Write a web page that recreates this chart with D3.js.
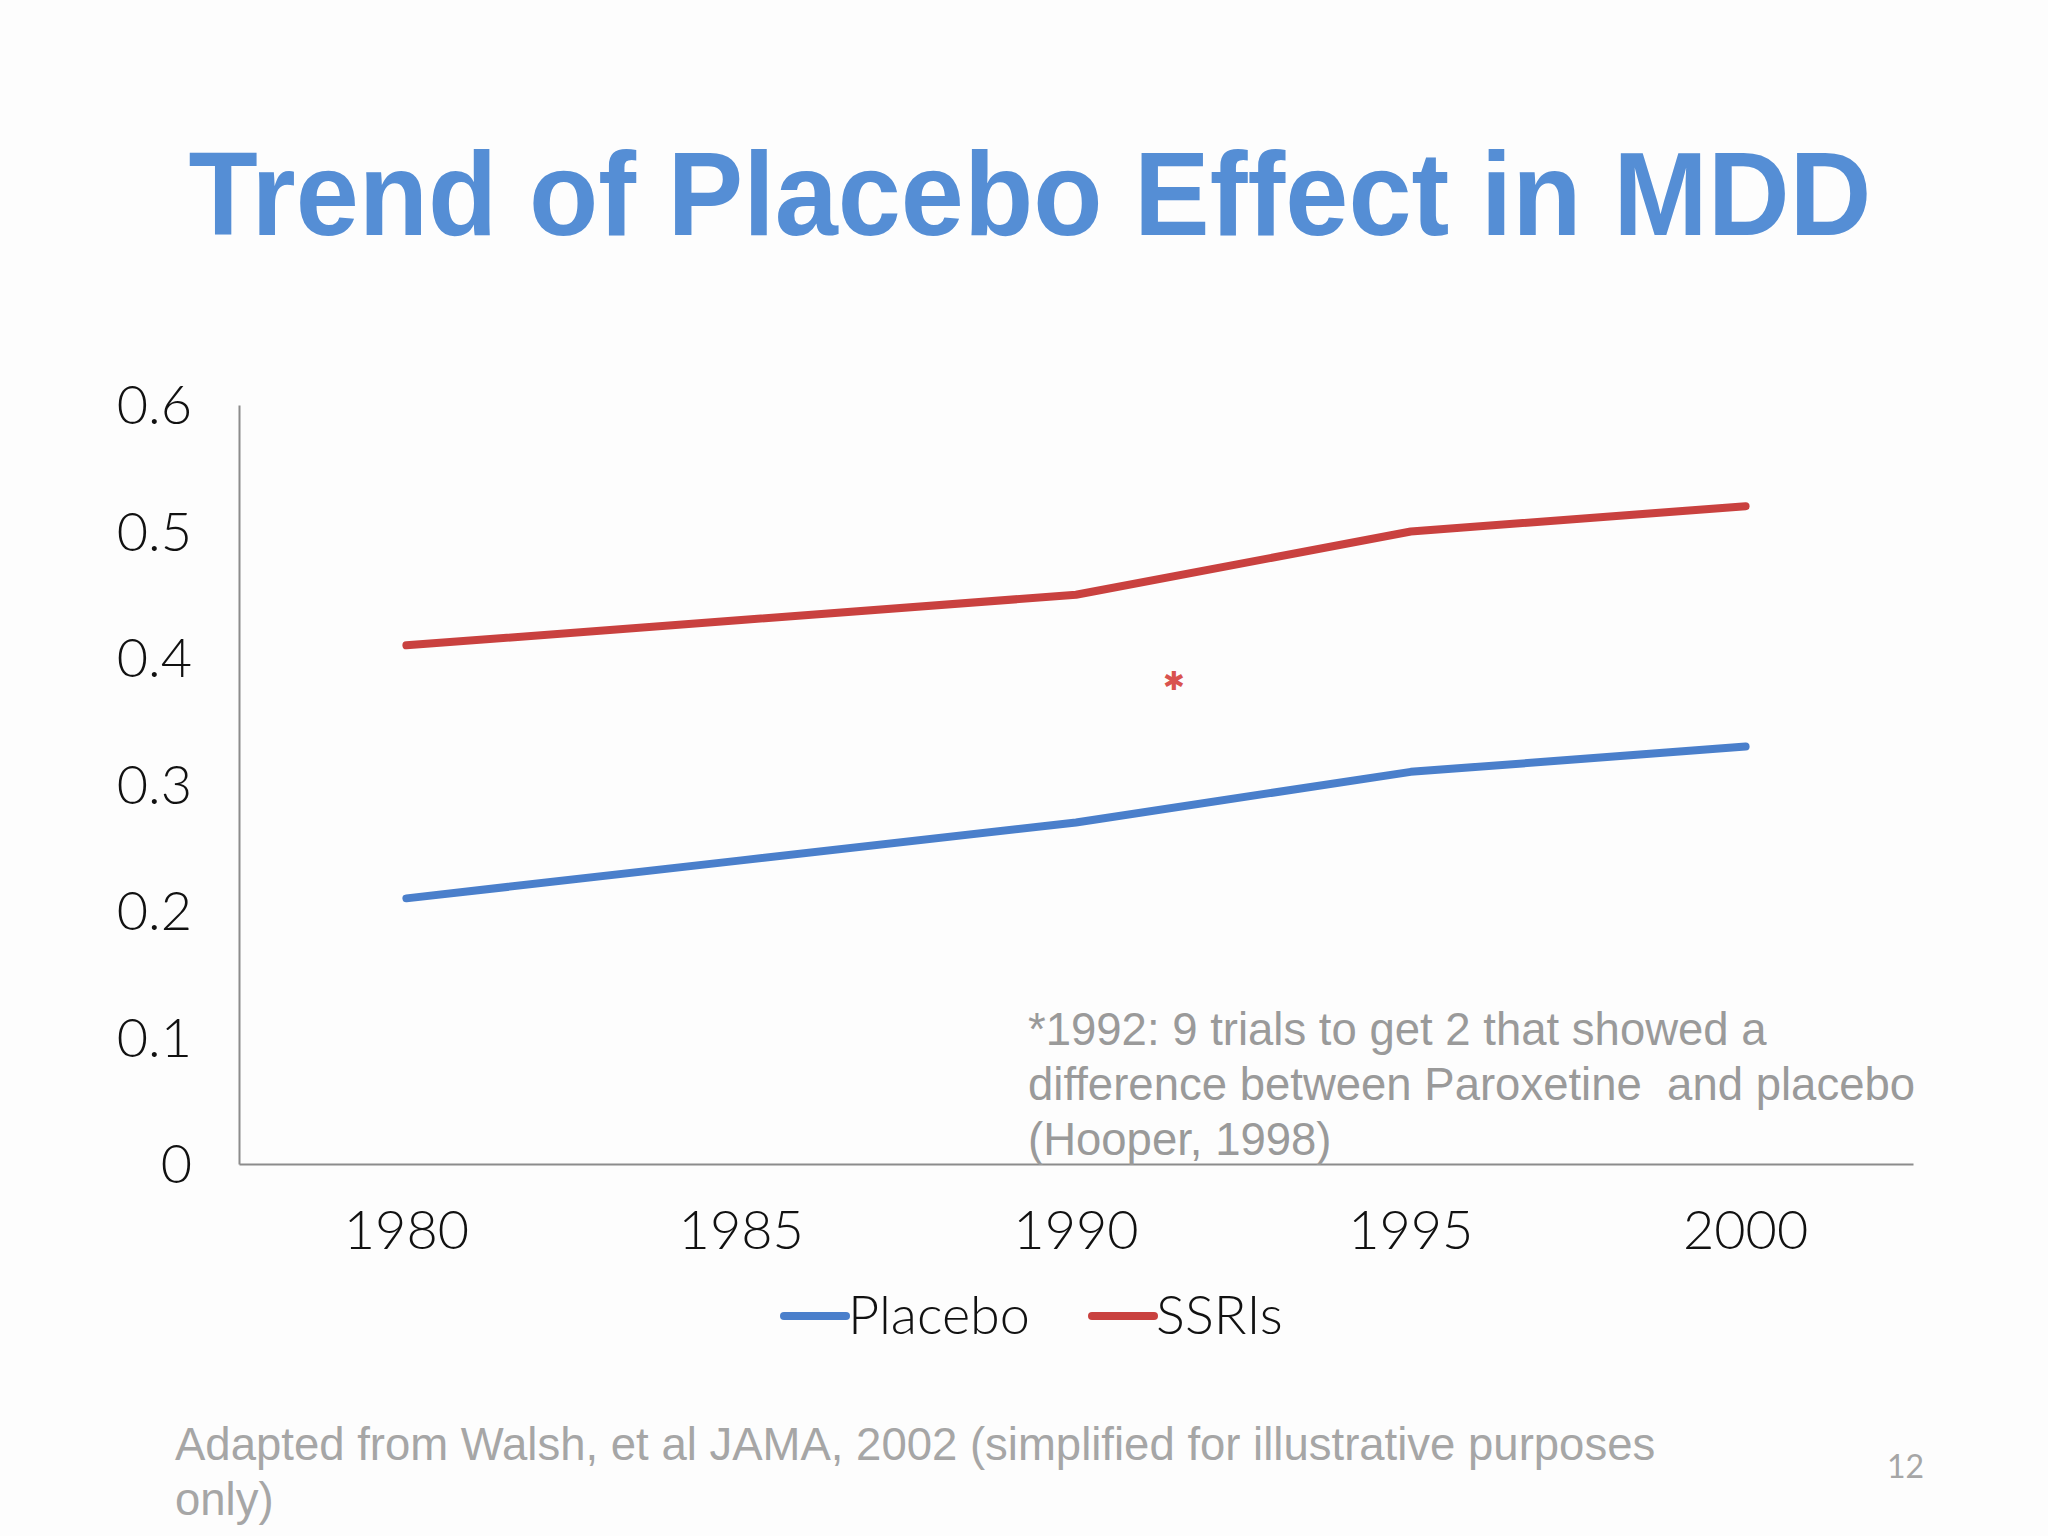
<!DOCTYPE html>
<html>
<head>
<meta charset="utf-8">
<script src="https://cdn.jsdelivr.net/npm/d3@7"></script>
<style>
  body { margin: 0; background: #fdfdfd; }
  svg { display: block; }
</style>
</head>
<body>
<div id="chart"></div>
<script>
// data
const years = ["1980", "1985", "1990", "1995", "2000"];
const placebo = [0.21, 0.24, 0.27, 0.31, 0.33];
const ssris = [0.41, 0.43, 0.45, 0.50, 0.52];
const yTicks = [0, 0.1, 0.2, 0.3, 0.4, 0.5, 0.6];
const seriesNames = ["Placebo", "SSRIs"];
const seriesColors = ["#4a7fcb", "#c9413f"];

const W = 2048, H = 1536;
const margins = { top: 405, right: 135, bottom: 372, left: 239 };
const graphWidth = W - margins.left - margins.right;
const graphHeight = H - margins.top - margins.bottom;

const svg = d3.select("#chart").append("svg")
  .attr("width", W)
  .attr("height", H);

svg.append("rect").attr("width", W).attr("height", H).attr("fill", "#fdfdfd");

// title
svg.append("text")
  .attr("x", 1030)
  .attr("y", 235)
  .attr("text-anchor", "middle")
  .attr("font-family", "Liberation Sans, Arial, sans-serif")
  .attr("font-weight", 700)
  .attr("font-size", 118)
  .attr("fill", "#558ed5")
  .attr("textLength", 1683)
  .attr("lengthAdjust", "spacingAndGlyphs")
  .text("Trend of Placebo Effect in MDD");

const graph = svg.append("g")
  .attr("transform", `translate(${margins.left},${margins.top})`);

const x = d3.scaleBand().domain(years).range([0, graphWidth]);
const y = d3.scaleLinear().domain([0, 0.6]).range([graphHeight, 0]);

const axisFont = "Lato, 'Open Sans', sans-serif";

// y axis
const yAxisGroup = graph.append("g")
  .call(d3.axisLeft(y).tickValues(yTicks).tickSize(0).tickPadding(47)
    .tickFormat(d => d === 0 ? "0" : d3.format(".1f")(d)));
yAxisGroup.select(".domain").attr("stroke", "#8c8c8c").attr("stroke-width", 2);
yAxisGroup.selectAll("text")
  .attr("font-family", axisFont)
  .attr("font-weight", 300)
  .attr("font-size", 54)
  .attr("fill", "#111")
  .attr("dy", "0.35em");

// x axis
const xAxisGroup = graph.append("g")
  .attr("transform", `translate(0,${graphHeight})`)
  .call(d3.axisBottom(x).tickSize(0).tickPadding(47));
xAxisGroup.select(".domain").attr("stroke", "#8c8c8c").attr("stroke-width", 2);
xAxisGroup.selectAll("text")
  .attr("font-family", axisFont)
  .attr("font-weight", 300)
  .attr("font-size", 54)
  .attr("fill", "#111");

// lines
const line = d3.line()
  .x((d, i) => x(years[i]) + x.bandwidth() / 2)
  .y(d => y(d));

[placebo, ssris].forEach((s, i) => {
  graph.append("path")
    .datum(s)
    .attr("fill", "none")
    .attr("stroke", seriesColors[i])
    .attr("stroke-width", 8)
    .attr("stroke-linejoin", "round")
    .attr("stroke-linecap", "round")
    .attr("d", line);
});

// annotation
const note = [
  "*1992: 9 trials to get 2 that showed a",
  "difference between Paroxetine  and placebo",
  "(Hooper, 1998)"
];
svg.append("g").selectAll("text").data(note).enter()
  .append("text")
  .attr("x", 1028)
  .attr("y", (d, i) => 1045 + i * 55)
  .attr("font-family", "Liberation Sans, Arial, sans-serif")
  .attr("font-size", 45.5)
  .attr("fill", "#9a9a9a")
  .style("white-space", "pre")
  .text(d => d);

// small red mark
svg.append("text")
  .attr("x", 1174)
  .attr("y", 690)
  .attr("text-anchor", "middle")
  .attr("font-family", "DejaVu Sans, sans-serif")
  .attr("font-size", 26)
  .attr("fill", "#d9534f")
  .text("\u2731");

// legend
const legendX = [784, 1092];
const legend = svg.append("g");
seriesNames.forEach((name, i) => {
  legend.append("line")
    .attr("x1", legendX[i]).attr("x2", legendX[i] + 62)
    .attr("y1", 1316).attr("y2", 1316)
    .attr("stroke", seriesColors[i])
    .attr("stroke-width", 8)
    .attr("stroke-linecap", "round");
  legend.append("text")
    .attr("x", legendX[i] + 64)
    .attr("y", 1334)
    .attr("font-family", axisFont)
    .attr("font-weight", 300)
    .attr("font-size", 54)
    .attr("fill", "#111")
    .text(name);
});

// footer
const footer = [
  "Adapted from Walsh, et al JAMA, 2002 (simplified for illustrative purposes",
  "only)"
];
svg.append("g").selectAll("text").data(footer).enter()
  .append("text")
  .attr("x", 175)
  .attr("y", (d, i) => 1460 + i * 55)
  .attr("font-family", "Liberation Sans, Arial, sans-serif")
  .attr("font-size", 45.5)
  .attr("fill", "#a6a6a6")
  .text(d => d);

svg.append("text")
  .attr("x", 1924)
  .attr("y", 1478)
  .attr("text-anchor", "end")
  .attr("font-family", axisFont)
  .attr("font-size", 32)
  .attr("fill", "#a6a6a6")
  .text("12");
</script>
</body>
</html>
